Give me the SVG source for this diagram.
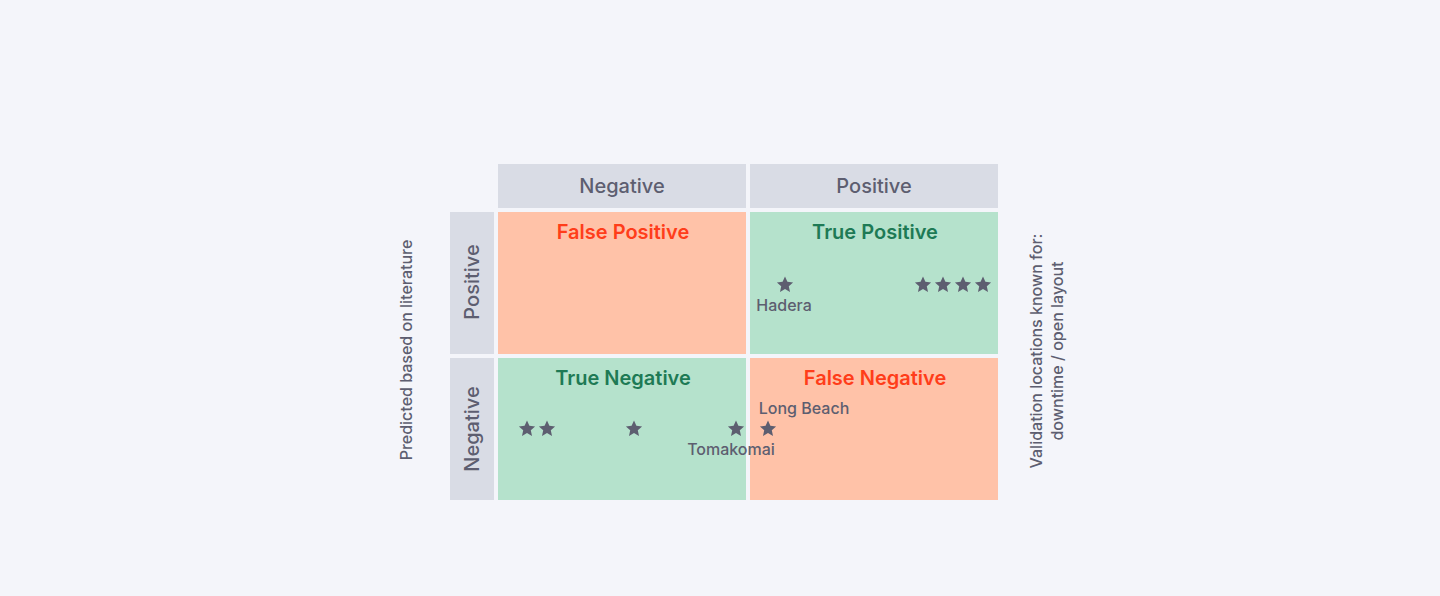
<svg xmlns="http://www.w3.org/2000/svg" width="1440" height="596" viewBox="0 0 1440 596">
<style>
.hdr{fill:#d9dce5}
.fp{fill:#ffc2a8}
.tp{fill:#b5e2cc}
.ht{font-family:Inter,"Liberation Sans",sans-serif;font-size:20px;font-weight:500;fill:#5d5e70;text-anchor:middle}
.tr{font-family:Inter,"Liberation Sans",sans-serif;font-size:20px;font-weight:600;fill:#ff3d1a;text-anchor:middle}
.tg{font-family:Inter,"Liberation Sans",sans-serif;font-size:20px;font-weight:600;fill:#1e7a55;text-anchor:middle}
.lb{font-family:Inter,"Liberation Sans",sans-serif;font-size:16px;font-weight:500;fill:#5d5e70;text-anchor:middle}
.ax{font-family:Inter,"Liberation Sans",sans-serif;font-size:16px;font-weight:500;fill:#5d5e70;text-anchor:middle}
.st{fill:#5d5e70}
</style>
<defs>
<path id="star" d="M0,-8.5 L2.4,-3.2 L8.1,-2.6 L3.8,1.3 L5,7 L0,4.1 L-5,7 L-3.8,1.3 L-8.1,-2.6 L-2.4,-3.2 Z"/>
</defs>
<rect width="1440" height="596" fill="#f4f5fa"/>
<g id="col-negative"><rect class="hdr" x="498" y="164" width="248" height="44"/><text class="ht" x="622" y="193">Negative</text></g>
<g id="col-positive"><rect class="hdr" x="750" y="164" width="248" height="44"/><text class="ht" x="874" y="193">Positive</text></g>
<g id="row-positive"><rect class="hdr" x="450" y="212" width="44" height="142"/><text class="ht" transform="translate(479,282) rotate(-90)">Positive</text></g>
<g id="row-negative"><rect class="hdr" x="450" y="358" width="44" height="142"/><text class="ht" transform="translate(479,429) rotate(-90)">Negative</text></g>
<g id="false-positive"><rect class="fp" x="498" y="212" width="248" height="142"/><text class="tr" x="623" y="239">False Positive</text></g>
<g id="true-positive"><rect class="tp" x="750" y="212" width="248" height="142"/><text class="tg" x="875" y="239">True Positive</text></g>
<g id="true-negative"><rect class="tp" x="498" y="358" width="248" height="142"/><text class="tg" x="623" y="385">True Negative</text></g>
<g id="false-negative"><rect class="fp" x="750" y="358" width="248" height="142"/><text class="tr" x="875" y="385">False Negative</text></g>
<g id="stars">
<use href="#star" class="st" x="785" y="285"/>
<use href="#star" class="st" x="923" y="285"/>
<use href="#star" class="st" x="943" y="285"/>
<use href="#star" class="st" x="963" y="285"/>
<use href="#star" class="st" x="983" y="285"/>
<use href="#star" class="st" x="527" y="429"/>
<use href="#star" class="st" x="547" y="429"/>
<use href="#star" class="st" x="634" y="429"/>
<use href="#star" class="st" x="736" y="429"/>
<use href="#star" class="st" x="768" y="429"/>
</g>
<g id="labels">
<text class="lb" x="784" y="311">Hadera</text>
<text class="lb" x="731" y="455">Tomakomai</text>
<text class="lb" x="804" y="414">Long Beach</text>
</g>
<g id="axis-left"><text class="ax" transform="translate(412,350) rotate(-90)">Predicted based on literature</text></g>
<g id="axis-right"><text class="ax" transform="translate(1042,351) rotate(-90)"><tspan x="0" dy="0">Validation locations known for:</tspan><tspan x="0" dy="21">downtime / open layout</tspan></text></g>
</svg>
